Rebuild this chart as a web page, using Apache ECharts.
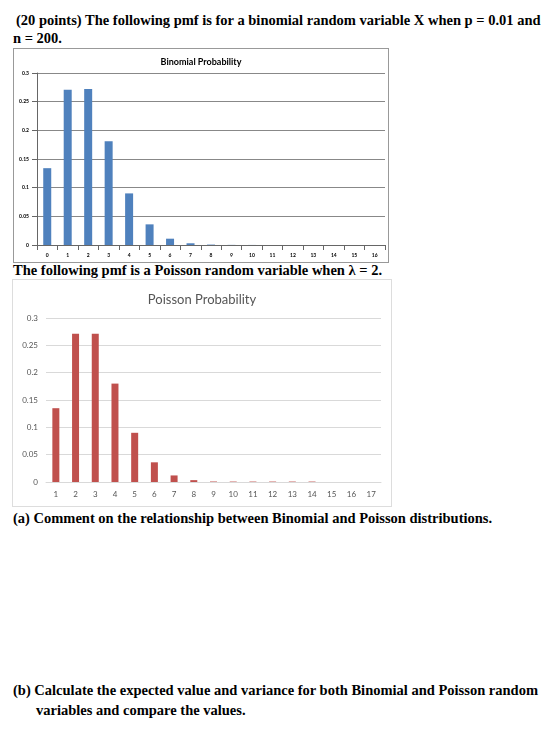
<!DOCTYPE html>
<html><head><meta charset="utf-8">
<script src="https://cdn.jsdelivr.net/npm/echarts@6/dist/echarts.min.js"></script>
<style>
body{margin:0;width:557px;height:733px;background:#fff;position:relative;font-family:"Liberation Serif",serif;font-weight:bold;font-size:14.5px;color:#000}
.t{position:absolute;white-space:nowrap}
#c1{position:absolute;left:13px;top:48px;width:374px;height:213px;border:1px solid #999}
#c2{position:absolute;left:12px;top:279px;width:378px;height:226px;border:1px solid #ddd}
</style></head><body>
<div class="t" style="left:16px;top:12px">(20 points) The following pmf is for a binomial random variable X when p = 0.01 and</div>
<div class="t" style="left:13px;top:30px">n = 200.</div>
<div class="t" style="left:13px;top:262px">The following pmf is a Poisson random variable when λ = 2.</div>
<div class="t" style="left:13px;top:510px">(a) Comment on the relationship between Binomial and Poisson distributions.</div>
<div class="t" style="left:13px;top:682px">(b) Calculate the expected value and variance for both Binomial and Poisson random</div>
<div class="t" style="left:36px;top:702px">variables and compare the values.</div>
<div id="c1"></div><div id="c2"></div>
<script>
const binomCats=['0','1','2','3','4','5','6','7','8','9','10','11','12','13','14','15','16'];
const binomVals=[0.134,0.271,0.272,0.181,0.090,0.036,0.011,0.003,0.0007,0.0002,0.0001,0,0,0,0,0,0];
const poisCats=['1','2','3','4','5','6','7','8','9','10','11','12','13','14','15','16','17'];
const poisVals=[0.135,0.271,0.271,0.180,0.090,0.036,0.012,0.0034,0.0009,0.0008,0.0008,0.0008,0.0008,0.0008,0,0,0];
const yTicks=[0,0.05,0.1,0.15,0.2,0.25,0.3];
const f="Lato, 'Open Sans', sans-serif";
echarts.init(document.getElementById('c1')).setOption({
 title:{text:'Binomial Probability',left:'center',top:4,textStyle:{fontSize:9,fontWeight:'bold',color:'#000',fontFamily:f}},
 grid:{left:23,right:3,top:24,bottom:17},
 xAxis:{type:'category',data:binomCats,axisLine:{lineStyle:{color:'#666'}},axisTick:{show:true,lineStyle:{color:'#666'}},axisLabel:{fontSize:5,fontWeight:'bold',color:'#000',fontFamily:f}},
 yAxis:{type:'value',min:0,max:0.3,interval:0.05,axisLine:{show:true,lineStyle:{color:'#666'}},axisTick:{show:true},splitLine:{lineStyle:{color:'#888'}},axisLabel:{fontSize:5,fontWeight:'bold',color:'#000',fontFamily:f}},
 series:[{type:'bar',data:binomVals,barWidth:8,itemStyle:{color:'#4f81bd'},animation:false}]
});
echarts.init(document.getElementById('c2')).setOption({
 title:{text:'Poisson Probability',left:'center',top:8,textStyle:{fontSize:13,fontWeight:'normal',color:'#555',fontFamily:f}},
 grid:{left:33,right:10,top:38,bottom:24},
 xAxis:{type:'category',data:poisCats,axisLine:{lineStyle:{color:'#d9d9d9'}},axisTick:{show:false},axisLabel:{fontSize:8,color:'#555',fontFamily:f}},
 yAxis:{type:'value',min:0,max:0.3,interval:0.05,splitLine:{lineStyle:{color:'#d9d9d9'}},axisLabel:{fontSize:8,color:'#555',fontFamily:f}},
 series:[{type:'bar',data:poisVals,barWidth:7,itemStyle:{color:'#c0504d'},animation:false}]
});
</script></body></html>
